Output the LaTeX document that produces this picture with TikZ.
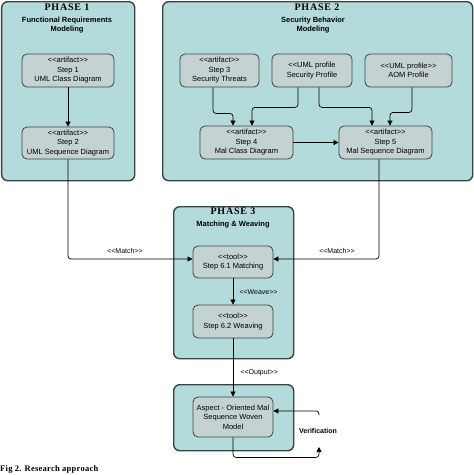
\documentclass[tikz,border=0pt]{standalone}
\usepackage{fontspec}
\setmainfont{Liberation Sans}
\newfontfamily\titlefont[LetterSpace=8]{Liberation Serif}
\newfontfamily\capfont[LetterSpace=3]{Liberation Serif}
\usetikzlibrary{arrows.meta}
\definecolor{outerfill}{RGB}{180,219,219}
\definecolor{innerfill}{RGB}{196,210,210}
\definecolor{edgecol}{RGB}{60,66,66}
\newcommand\lgl{<{}<}
\newcommand\rgl{>{}>}
\begin{document}
\begin{tikzpicture}[x=1pt,y=-1pt,
 phase/.style={draw=edgecol, line width=1.4pt, fill=outerfill, rounded corners=6pt, inner sep=0pt, anchor=north west},
 stepbox/.style={draw=edgecol, line width=0.8pt, fill=innerfill, rounded corners=5pt, inner sep=0pt, align=center, font=\fontsize{7.5}{9.5}\selectfont},
 ttl/.style={font=\titlefont\bfseries\fontsize{10}{12}\selectfont},
 sub/.style={font=\bfseries\fontsize{7.5}{9.5}\selectfont, align=center},
 lbl/.style={font=\fontsize{7}{8}\selectfont},
 arr/.style={-{Triangle[length=5pt,width=5pt]}, line width=0.7pt, rounded corners=3pt}]
\useasboundingbox (0,0) rectangle (474,475);
% phase containers
\node[phase, minimum width=133pt, minimum height=179pt] (p1) at (1,1) {};
\node[phase, minimum width=310pt, minimum height=179pt] (p2) at (162,1) {};
\node[phase, minimum width=120pt, minimum height=152pt] (p3) at (173,206) {};
\node[phase, minimum width=120pt, minimum height=66pt] (p4) at (173,384) {};
% titles
\node[ttl] (t1) at (67,7) {PHASE 1};
\node[sub] (st1) at (67,25) {Functional Requirements\\Modeling};
\node[ttl] (t2) at (317,7) {PHASE 2};
\node[sub] (st2) at (313,25) {Security Behavior\\Modeling};
\node[ttl] (t3) at (233,211.5) {PHASE 3};
\node[sub] (st3) at (233,225) {Matching \& Weaving};
% steps
\node[stepbox, minimum width=92pt, minimum height=33pt] (s1) at (68,70.5) {\lgl artifact\rgl\\Step 1\\UML Class Diagram};
\node[stepbox, minimum width=92pt, minimum height=32pt] (s2) at (68,143) {\lgl artifact\rgl\\Step 2\\UML Sequence Diagram};
\node[stepbox, minimum width=79pt, minimum height=33pt] (s3) at (219.5,70.5) {\lgl artifact\rgl\\Step 3\\Security Threats};
\node[stepbox, minimum width=80pt, minimum height=33pt] (sp) at (312,70.5) {\lgl UML profile\\Security Profile};
\node[stepbox, minimum width=87pt, minimum height=33pt] (aom) at (408.5,70.5) {\lgl UML profile\rgl\\AOM Profile};
\node[stepbox, minimum width=93pt, minimum height=33pt] (s4) at (246.5,142.5) {\lgl artifact\rgl\\Step 4\\Mal Class Diagram};
\node[stepbox, minimum width=93pt, minimum height=33pt] (s5) at (385.5,142.5) {\lgl artifact\rgl\\Step 5\\Mal Sequence Diagram};
\node[stepbox, minimum width=80pt, minimum height=32pt] (s61) at (233,262) {\lgl tool\rgl\\Step 6.1 Matching};
\node[stepbox, minimum width=80pt, minimum height=33pt] (s62) at (233,321.5) {\lgl tool\rgl\\Step 6.2 Weaving};
\node[stepbox, minimum width=80pt, minimum height=40pt] (fin) at (233,417) {Aspect - Oriented Mal\\Sequence Woven\\Model};
% connectors
\draw[arr] (s1.south) -- (s2.north);
\draw[arr] ([xshift=-6.5pt]s3.south) -- ++(0,26) -| ([xshift=-13.5pt]s4.north);
\draw[arr] ([xshift=-14pt]sp.south) -- ++(0,20) -| ([xshift=5.5pt]s4.north);
\draw[arr] ([xshift=7pt]sp.south) -- ++(0,20) -| ([xshift=-13.5pt]s5.north);
\draw[arr] ([xshift=3.5pt]aom.south) -- ++(0,25) -| ([xshift=4.5pt]s5.north);
\draw[arr] (s4.east) -- (s5.west);
\draw[arr] (s2.south) |- ([yshift=3pt]s61.west);
\draw[arr] ([xshift=-6.5pt]s5.south) |- ([yshift=3pt]s61.east);
\draw[arr] (s61.south) -- (s62.north);
\draw[arr] (s62.south) -- (fin.north);
\coordinate (v1) at (319,447);
\coordinate (v2) at (319,415);
\draw[arr] (fin.south) -- ++(0,20) -| (v1);
\draw[arr] (v2) |- ([yshift=6pt]fin.east);
% labels
\node[lbl] (m1) at (125,251) {\lgl Match\rgl};
\node[lbl] (m2) at (337,251) {\lgl Match\rgl};
\node[lbl, anchor=west] (wv) at (236,292) {\lgl Weave\rgl};
\node[lbl, anchor=west] (op) at (237,373) {\lgl Output\rgl};
\node[font=\bfseries\fontsize{7}{8}\selectfont] (ver) at (318,431) {Verification};
\node[font=\capfont\bfseries\fontsize{8.5}{10}\selectfont, anchor=north west, inner sep=0pt] (cap) at (0,465.5) {Fig 2. Research approach};
\end{tikzpicture}
\end{document}
